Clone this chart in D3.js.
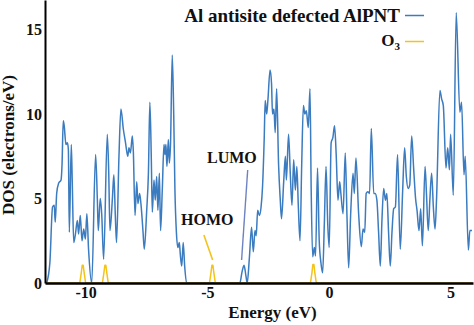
<!DOCTYPE html>
<html><head><meta charset="utf-8">
<script src="https://cdn.jsdelivr.net/npm/d3@7"></script>
<style>html,body{margin:0;padding:0;background:#fff;} svg{display:block;}</style>
</head><body><svg id="c" width="474" height="325"></svg>
<script>
// ---- data ----
const seriesNames = ["Al antisite defected AlPNT", "O"];
const xTicks = [-10, -5, 0, 5];
const yTicks = [0, 5, 10, 15];
// [energy (eV), DOS]
const dosAlPNT = [
[-11.60,0],[-11.47,1.2],[-11.36,4.5],[-11.29,4.6],[-11.25,3.6],[-11.19,5.3],[-11.11,5.9],[-11.01,6.1],[-10.97,7.0],[-10.92,9.6],
[-10.88,9.3],[-10.81,8.2],[-10.75,8.3],[-10.71,7.9],[-10.67,3.0],[-10.59,8.2],[-10.55,6.0],[-10.49,2.4],[-10.42,2.9],[-10.34,3.7],
[-10.29,2.9],[-10.22,4.0],[-10.15,2.5],[-10.08,3.2],[-10.01,2.6],[-9.95,4.1],[-9.88,2.0],[-9.75,0],[-9.59,7.6],[-9.52,5.0],
[-9.48,3.1],[-9.40,5.0],[-9.34,4.1],[-9.26,1.4],[-9.11,8.8],[-9.05,6.5],[-9.00,3.1],[-8.90,5.0],[-8.84,6.4],[-8.78,4.0],
[-8.73,2.4],[-8.63,7.5],[-8.55,10.3],[-8.45,9.1],[-8.36,8.3],[-8.27,7.5],[-8.22,8.0],[-8.16,7.7],[-8.08,8.7],[-8.04,7.8],
[-7.97,4.0],[-7.90,6.0],[-7.85,4.7],[-7.78,5.3],[-7.71,4.4],[-7.64,3.0],[-7.59,2.0],[-7.49,4.3],[-7.42,6.5],[-7.36,10.7],
[-7.30,7.3],[-7.26,4.2],[-7.19,6.1],[-7.14,4.9],[-7.08,6.3],[-7.03,4.3],[-6.97,6.5],[-6.92,3.1],[-6.85,5.5],[-6.78,8.2],
[-6.74,7.6],[-6.70,8.2],[-6.66,6.9],[-6.60,8.5],[-6.56,7.1],[-6.51,8.3],[-6.44,13.5],[-6.38,10.0],[-6.33,5.5],[-6.27,3.0],
[-6.21,2.1],[-6.15,2.4],[-6.11,1.7],[-6.05,1.0],[-5.99,2.4],[-5.93,1.0],[-5.85,0],
[-3.66,0],[-3.58,0.6],[-3.49,1.05],[-3.41,0.4],[-3.36,0],[-3.27,1.5],[-3.18,3.3],[-3.11,1.85],[-3.04,3.1],[-2.99,2.8],
[-2.93,4.3],[-2.86,4.0],[-2.79,4.5],[-2.73,5.7],[-2.66,8.6],[-2.62,10.8],[-2.56,10.0],[-2.51,10.8],[-2.42,12.6],[-2.36,11.8],
[-2.32,10.0],[-2.26,10.3],[-2.21,8.9],[-2.15,11.5],[-2.07,7.0],[-2.00,4.9],[-1.95,3.8],[-1.86,6.0],[-1.79,7.5],[-1.75,6.1],
[-1.66,8.8],[-1.59,6.5],[-1.52,4.6],[-1.45,7.3],[-1.38,5.5],[-1.32,6.9],[-1.26,4.6],[-1.19,2.5],[-1.12,7.0],[-1.05,10.5],
[-0.99,10.0],[-0.93,10.2],[-0.85,9.2],[-0.78,11.5],[-0.73,5.5],[-0.67,1.55],[-0.60,2.1],[-0.55,1.6],[-0.47,6.8],[-0.40,2.5],
[-0.33,1.2],[-0.26,0.6],[-0.19,3.5],[-0.12,6.9],[-0.05,3.5],[0.01,2.1],[0.09,8.3],[0.16,8.6],[0.23,9.3],[0.30,7.5],
[0.37,4.9],[0.44,6.0],[0.49,5.3],[0.58,4.1],[0.67,7.7],[0.74,4.0],[0.81,0.9],[0.89,4.0],[0.99,6.5],[1.04,5.3],
[1.11,7.4],[1.22,4.1],[1.33,2.15],[1.40,3.2],[1.47,3.0],[1.53,5.3],[1.60,5.4],[1.67,5.3],[1.74,9.15],[1.84,5.3],
[1.90,5.3],[1.97,4.9],[2.04,3.0],[2.11,1.0],[2.18,3.8],[2.25,5.6],[2.32,4.9],[2.38,5.3],[2.45,3.0],[2.52,1.0],
[2.59,3.0],[2.66,4.4],[2.73,4.5],[2.82,7.6],[2.93,2.0],[3.03,5.5],[3.11,8.0],[3.18,6.3],[3.25,5.6],[3.32,5.8],
[3.40,8.7],[3.48,6.8],[3.56,5.0],[3.62,4.3],[3.70,3.1],[3.77,4.4],[3.84,2.2],[3.95,6.9],[4.01,5.2],[4.08,3.1],
[4.15,5.0],[4.22,6.5],[4.29,4.5],[4.36,3.2],[4.42,4.9],[4.56,11.4],[4.63,10.9],[4.70,10.5],[4.81,6.8],[4.88,8.0],
[4.95,6.7],[5.00,8.8],[5.11,5.2],[5.23,16.0],[5.38,10.1],[5.45,10.7],[5.55,6.4],[5.60,7.5],[5.73,1.95],[5.79,3.1],[5.88,3.1]
];
const dosO3 = [
[-11.60,0],[-10.24,0],[-10.18,0.6],[-10.14,1.05],[-10.10,1.05],[-10.06,0.6],[-10.00,0],
[-9.31,0],[-9.25,0.6],[-9.21,1.05],[-9.17,1.05],[-9.13,0.6],[-9.07,0],
[-4.91,0],[-4.85,0.6],[-4.81,1.05],[-4.77,1.05],[-4.73,0.6],[-4.67,0],
[-0.76,0],[-0.70,0.6],[-0.66,1.1],[-0.62,1.1],[-0.58,0.6],[-0.52,0],[5.88,0]
];
const labelHOMO = "HOMO", labelLUMO = "LUMO";

// ---- drawing ----
const svg = d3.select("#c");
const serif = "'Liberation Serif','Times New Roman',serif";
const blue = "#3b7bbf", yellow = "#f3c318";
const x = d3.scaleLinear().domain([-11.67, 5.92]).range([45, 473]);
const y = d3.scaleLinear().domain([0, 16.75]).range([283, 0]);

const line = d3.line().x(d => x(d[0])).y(d => y(d[1])).curve(d3.curveMonotoneX);

svg.append("path").datum(dosAlPNT).attr("d", line)
  .attr("fill", "none").attr("stroke", blue).attr("stroke-width", 1.5).attr("stroke-linejoin", "round");
svg.append("path").datum(dosO3).attr("d", d3.line().x(d => x(d[0])).y(d => y(d[1])))
  .attr("fill", "none").attr("stroke", yellow).attr("stroke-width", 1.5).attr("stroke-linejoin", "round");

// annotation pointers
svg.append("line").attr("x1", x(-5.14)).attr("y1", y(2.84)).attr("x2", x(-4.78)).attr("y2", y(1.36))
  .attr("stroke", yellow).attr("stroke-width", 1.6);
svg.append("line").attr("x1", x(-3.59)).attr("y1", y(1.36)).attr("x2", x(-3.34)).attr("y2", y(6.69))
  .attr("stroke", "#6c82c2").attr("stroke-width", 1.4);

// axes
const xAxis = svg.append("g").attr("transform", `translate(0,${y(0)})`)
  .call(d3.axisBottom(x).tickValues(xTicks).tickFormat(d => String(d)).tickSize(0).tickSizeOuter(0).tickPadding(4));
xAxis.select(".domain").attr("stroke", "#000").attr("stroke-width", 2.6);
xAxis.selectAll("text").attr("font-family", serif).attr("font-weight", "bold").attr("font-size", 16).attr("fill", "#111");

const yAxis = svg.append("g").attr("transform", `translate(${x.range()[0]},0)`)
  .call(d3.axisLeft(y).tickValues(yTicks).tickFormat(d => String(d)).tickSize(0).tickSizeOuter(0).tickPadding(3));
yAxis.select(".domain").attr("stroke", "#000").attr("stroke-width", 2);
yAxis.selectAll("text").attr("font-family", serif).attr("font-weight", "bold").attr("font-size", 16).attr("fill", "#111");

// axis titles
svg.append("text").attr("x", 272.5).attr("y", 318).attr("text-anchor", "middle")
  .attr("font-family", serif).attr("font-weight", "bold").attr("font-size", 17).attr("fill", "#111")
  .text("Energy (eV)");
svg.append("text").attr("transform", "translate(14,145) rotate(-90)").attr("text-anchor", "middle")
  .attr("font-family", serif).attr("font-weight", "bold").attr("font-size", 17).attr("fill", "#111")
  .text("DOS (electrons/eV)");

// annotation labels
svg.append("text").attr("x", 181).attr("y", 225).attr("font-family", serif).attr("font-weight", "bold")
  .attr("font-size", 16).attr("fill", "#111").text(labelHOMO);
svg.append("text").attr("x", 207).attr("y", 163).attr("font-family", serif).attr("font-weight", "bold")
  .attr("font-size", 16).attr("fill", "#111").text(labelLUMO);

// legend
svg.append("text").attr("x", 400).attr("y", 22).attr("text-anchor", "end").attr("font-family", serif)
  .attr("font-weight", "bold").attr("font-size", 19).attr("fill", "#111").text(seriesNames[0]);
svg.append("line").attr("x1", 405).attr("x2", 424).attr("y1", 15.5).attr("y2", 15.5).attr("stroke", blue).attr("stroke-width", 1.5);
const o3 = svg.append("text").attr("x", 400).attr("y", 46).attr("text-anchor", "end").attr("font-family", serif)
  .attr("font-weight", "bold").attr("font-size", 17).attr("fill", "#111");
o3.append("tspan").text(seriesNames[1]);
o3.append("tspan").attr("font-size", 11).attr("dy", 4).text("3");
svg.append("line").attr("x1", 405).attr("x2", 424).attr("y1", 41.5).attr("y2", 41.5).attr("stroke", yellow).attr("stroke-width", 1.5);
</script></body></html>
